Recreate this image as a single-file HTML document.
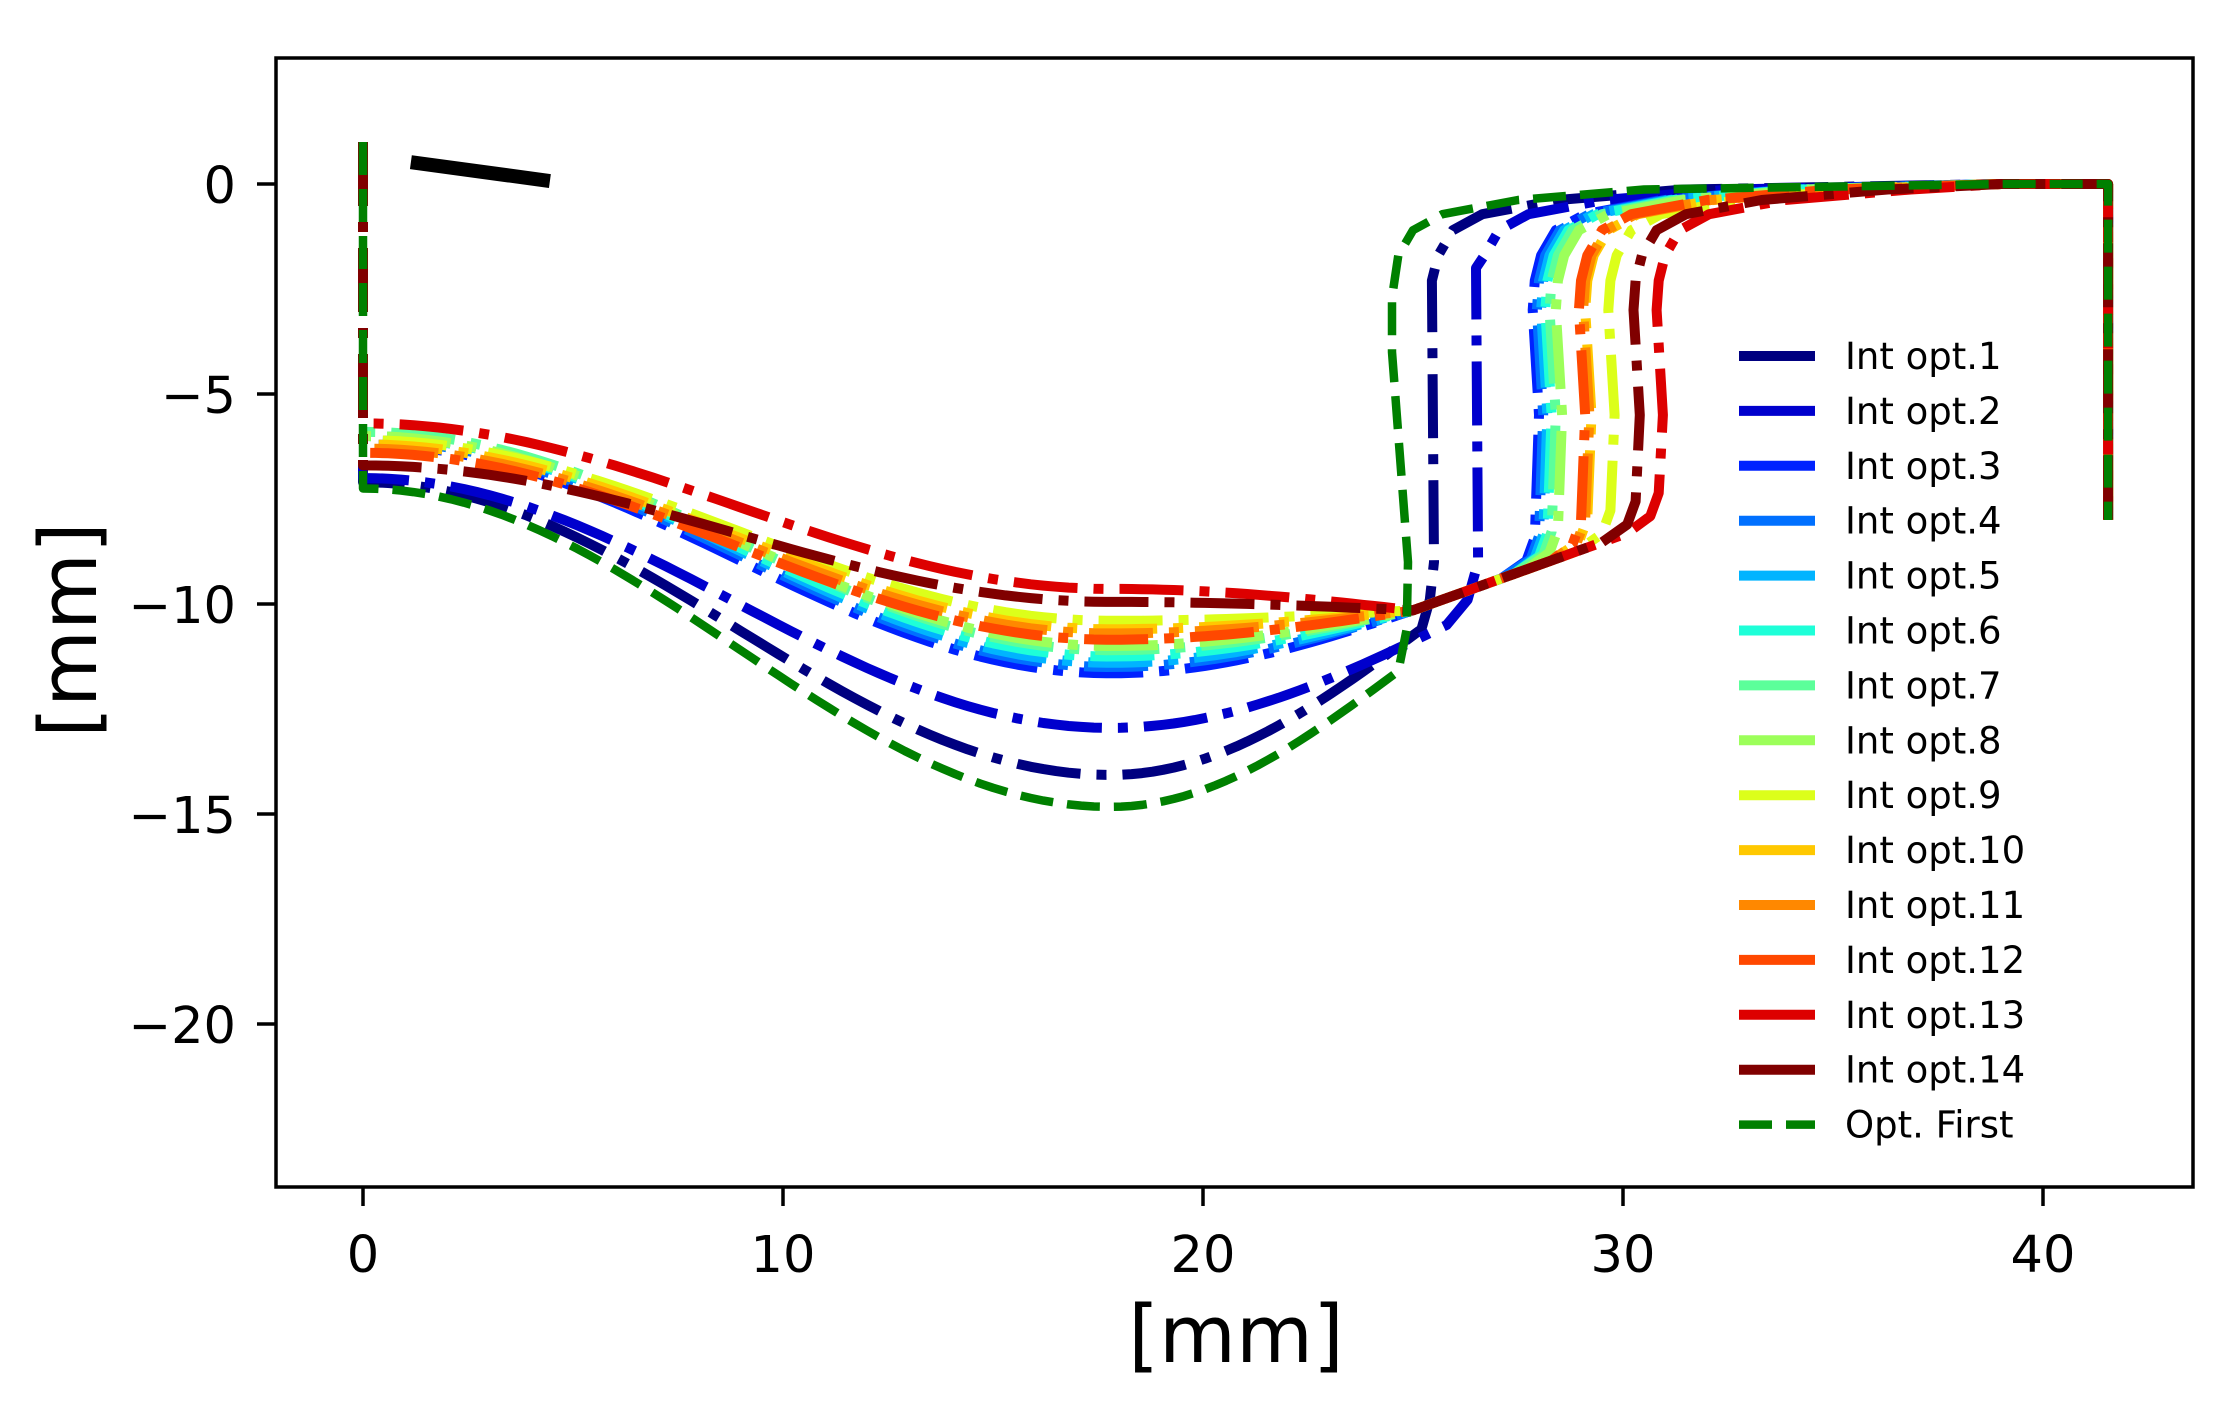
<!DOCTYPE html>
<html><head><meta charset="utf-8"><style>
html,body{margin:0;padding:0;background:#fff;}
svg{display:block;font-family:"DejaVu Sans","Liberation Sans",sans-serif;}
</style></head><body>
<svg id="s" width="2235" height="1410" viewBox="0 0 2235 1410" xmlns="http://www.w3.org/2000/svg">
<rect x="0" y="0" width="2235" height="1410" fill="#fff"/>
<defs><clipPath id="c"><rect x="276" y="58" width="1917" height="1129"/></clipPath></defs>
<g id="curves" clip-path="url(#c)"></g>
<rect x="276" y="58" width="1917" height="1129" fill="none" stroke="#000" stroke-width="3.5"/>
<g id="ticks" stroke="#000" stroke-width="3.5"></g>
<g id="labels" font-size="51" fill="#000"></g>
<text x="1236" y="1362" font-size="79" text-anchor="middle">[mm]</text>
<text transform="translate(96,630) rotate(-90)" font-size="79" text-anchor="middle">[mm]</text>
<g id="legend"></g>
</svg>
<script>
var NS="http://www.w3.org/2000/svg";
function X(x){return 363+x*42;}
function Y(y){return 184-y*42;}
function el(t,a,p){var e=document.createElementNS(NS,t);for(var k in a)e.setAttribute(k,a[k]);p.appendChild(e);return e;}
var ticks=document.getElementById('ticks'),labels=document.getElementById('labels');
[0,10,20,30,40].forEach(function(v){el('line',{x1:X(v),x2:X(v),y1:1187,y2:1206},ticks);var t=el('text',{x:X(v),y:1272,'text-anchor':'middle'},labels);t.textContent=v;});
[0,-5,-10,-15,-20].forEach(function(v){el('line',{x1:257,x2:276,y1:Y(v),y2:Y(v)},ticks);var t=el('text',{x:236,y:Y(v)+19,'text-anchor':'end'},labels);t.textContent=(v<0?'\u2212'+(-v):v);});
var C=document.getElementById('curves');
var S=[
['Int opt.1','#000080',-7.1,-14.07,25.45,1],
['Int opt.2','#0000cd',-7.0,-12.95,26.55,2],
['Int opt.3','#0022ff',-6.2,-11.65,27.9,0],
['Int opt.4','#0070ff',-6.1,-11.5,28.0,0],
['Int opt.5','#00b4ff',-6.0,-11.4,28.1,0],
['Int opt.6','#1effd8',-6.0,-11.25,28.2,0],
['Int opt.7','#5cff9a',-5.9,-11.1,28.3,0],
['Int opt.8','#9cff5a',-6.0,-11.0,28.45,0],
['Int opt.9','#dcff1a',-6.1,-10.4,29.7,0],
['Int opt.10','#ffc800',-6.2,-10.6,29.15,0],
['Int opt.11','#ff8800',-6.3,-10.7,29.1,0],
['Int opt.12','#ff4800',-6.4,-10.85,29.0,0],
['Int opt.13','#dd0000',-5.7,-9.64,30.85,0],
['Int opt.14','#800000',-6.7,-9.95,30.3,0],
['Opt. First','#008000',-7.25,-14.83,24.5,3]
];
function path(s){
  var y0=s[2],ym=s[3],xv=s[4],ty=s[5],pts=[],xm=17.8;
  pts.push([0,1]);pts.push([0,y0]);
  for(var x=0.3;x<=xm;x+=0.3){pts.push([x,y0+(ym-y0)*(1-Math.cos(Math.PI*x/xm))/2]);}
  function up(xb,yb){for(var x=xm+0.25;x<=xb;x+=0.25){var t=(x-xm)/(xb-xm);pts.push([x,ym+(yb-ym)*(1-Math.cos(Math.PI/2*t))]);}pts.push([xb,yb]);}
  if(ty==1){up(25.2,-10.6);pts.push([25.4,-9.9]);pts.push([25.5,-9.0]);pts.push([25.45,-2.3]);}
  else if(ty==2){up(25.8,-10.5);pts.push([26.3,-9.9]);pts.push([26.55,-9.0]);pts.push([26.5,-2.0]);}
  else if(ty==3){up(24.65,-11.6);pts.push([24.85,-10.6]);pts.push([24.88,-9.0]);pts.push([24.5,-4.0]);pts.push([24.5,-2.7]);}
  else{
    var yb=-10.15;
    up(25,yb);
    var xa=xv-0.6;
    for(var x=25.3;x<=xa;x+=0.3){pts.push([x,yb+0.36*(x-25)]);}
    var yr=yb+0.36*(xa-25);
    pts.push([xv-0.2,yr+0.35]);pts.push([xv,yr+0.9]);pts.push([xv+0.1,-5.5]);pts.push([xv-0.05,-3.0]);pts.push([xv,-2.3]);
  }
  pts.push([xv+0.15,-1.7]);pts.push([xv+0.5,-1.1]);pts.push([xv+1.2,-0.72]);
  pts.push([xv+3,-0.38]);pts.push([xv+6,-0.13]);pts.push([39,0]);pts.push([41.55,0]);pts.push([41.55,-8]);
  return 'M'+pts.map(function(p){return X(p[0]).toFixed(1)+','+Y(p[1]).toFixed(1);}).join(' L');
}
S.forEach(function(s,i){
  var dash=(i==14)?'33,14':'64,16,10,16';
  el('path',{d:path(s),fill:'none',stroke:s[1],'stroke-width':(i==14?8.5:10),'stroke-dasharray':dash,'stroke-linejoin':'round'},C);
});
el('line',{x1:X(1.14),y1:Y(0.52),x2:X(4.45),y2:Y(0.07),stroke:'#000','stroke-width':14},C);
var L=document.getElementById('legend');
S.forEach(function(s,i){
  var y=356+i*54.9;
  el('line',{x1:1739,x2:1815,y1:y,y2:y,stroke:s[1],'stroke-width':(i==14?8.5:10),'stroke-dasharray':(i==14?'33,14':'none')},L);
  var t=el('text',{x:1845,y:y+13,'font-size':37,fill:'#000'},L);t.textContent=s[0];
});
</script>
</body></html>
